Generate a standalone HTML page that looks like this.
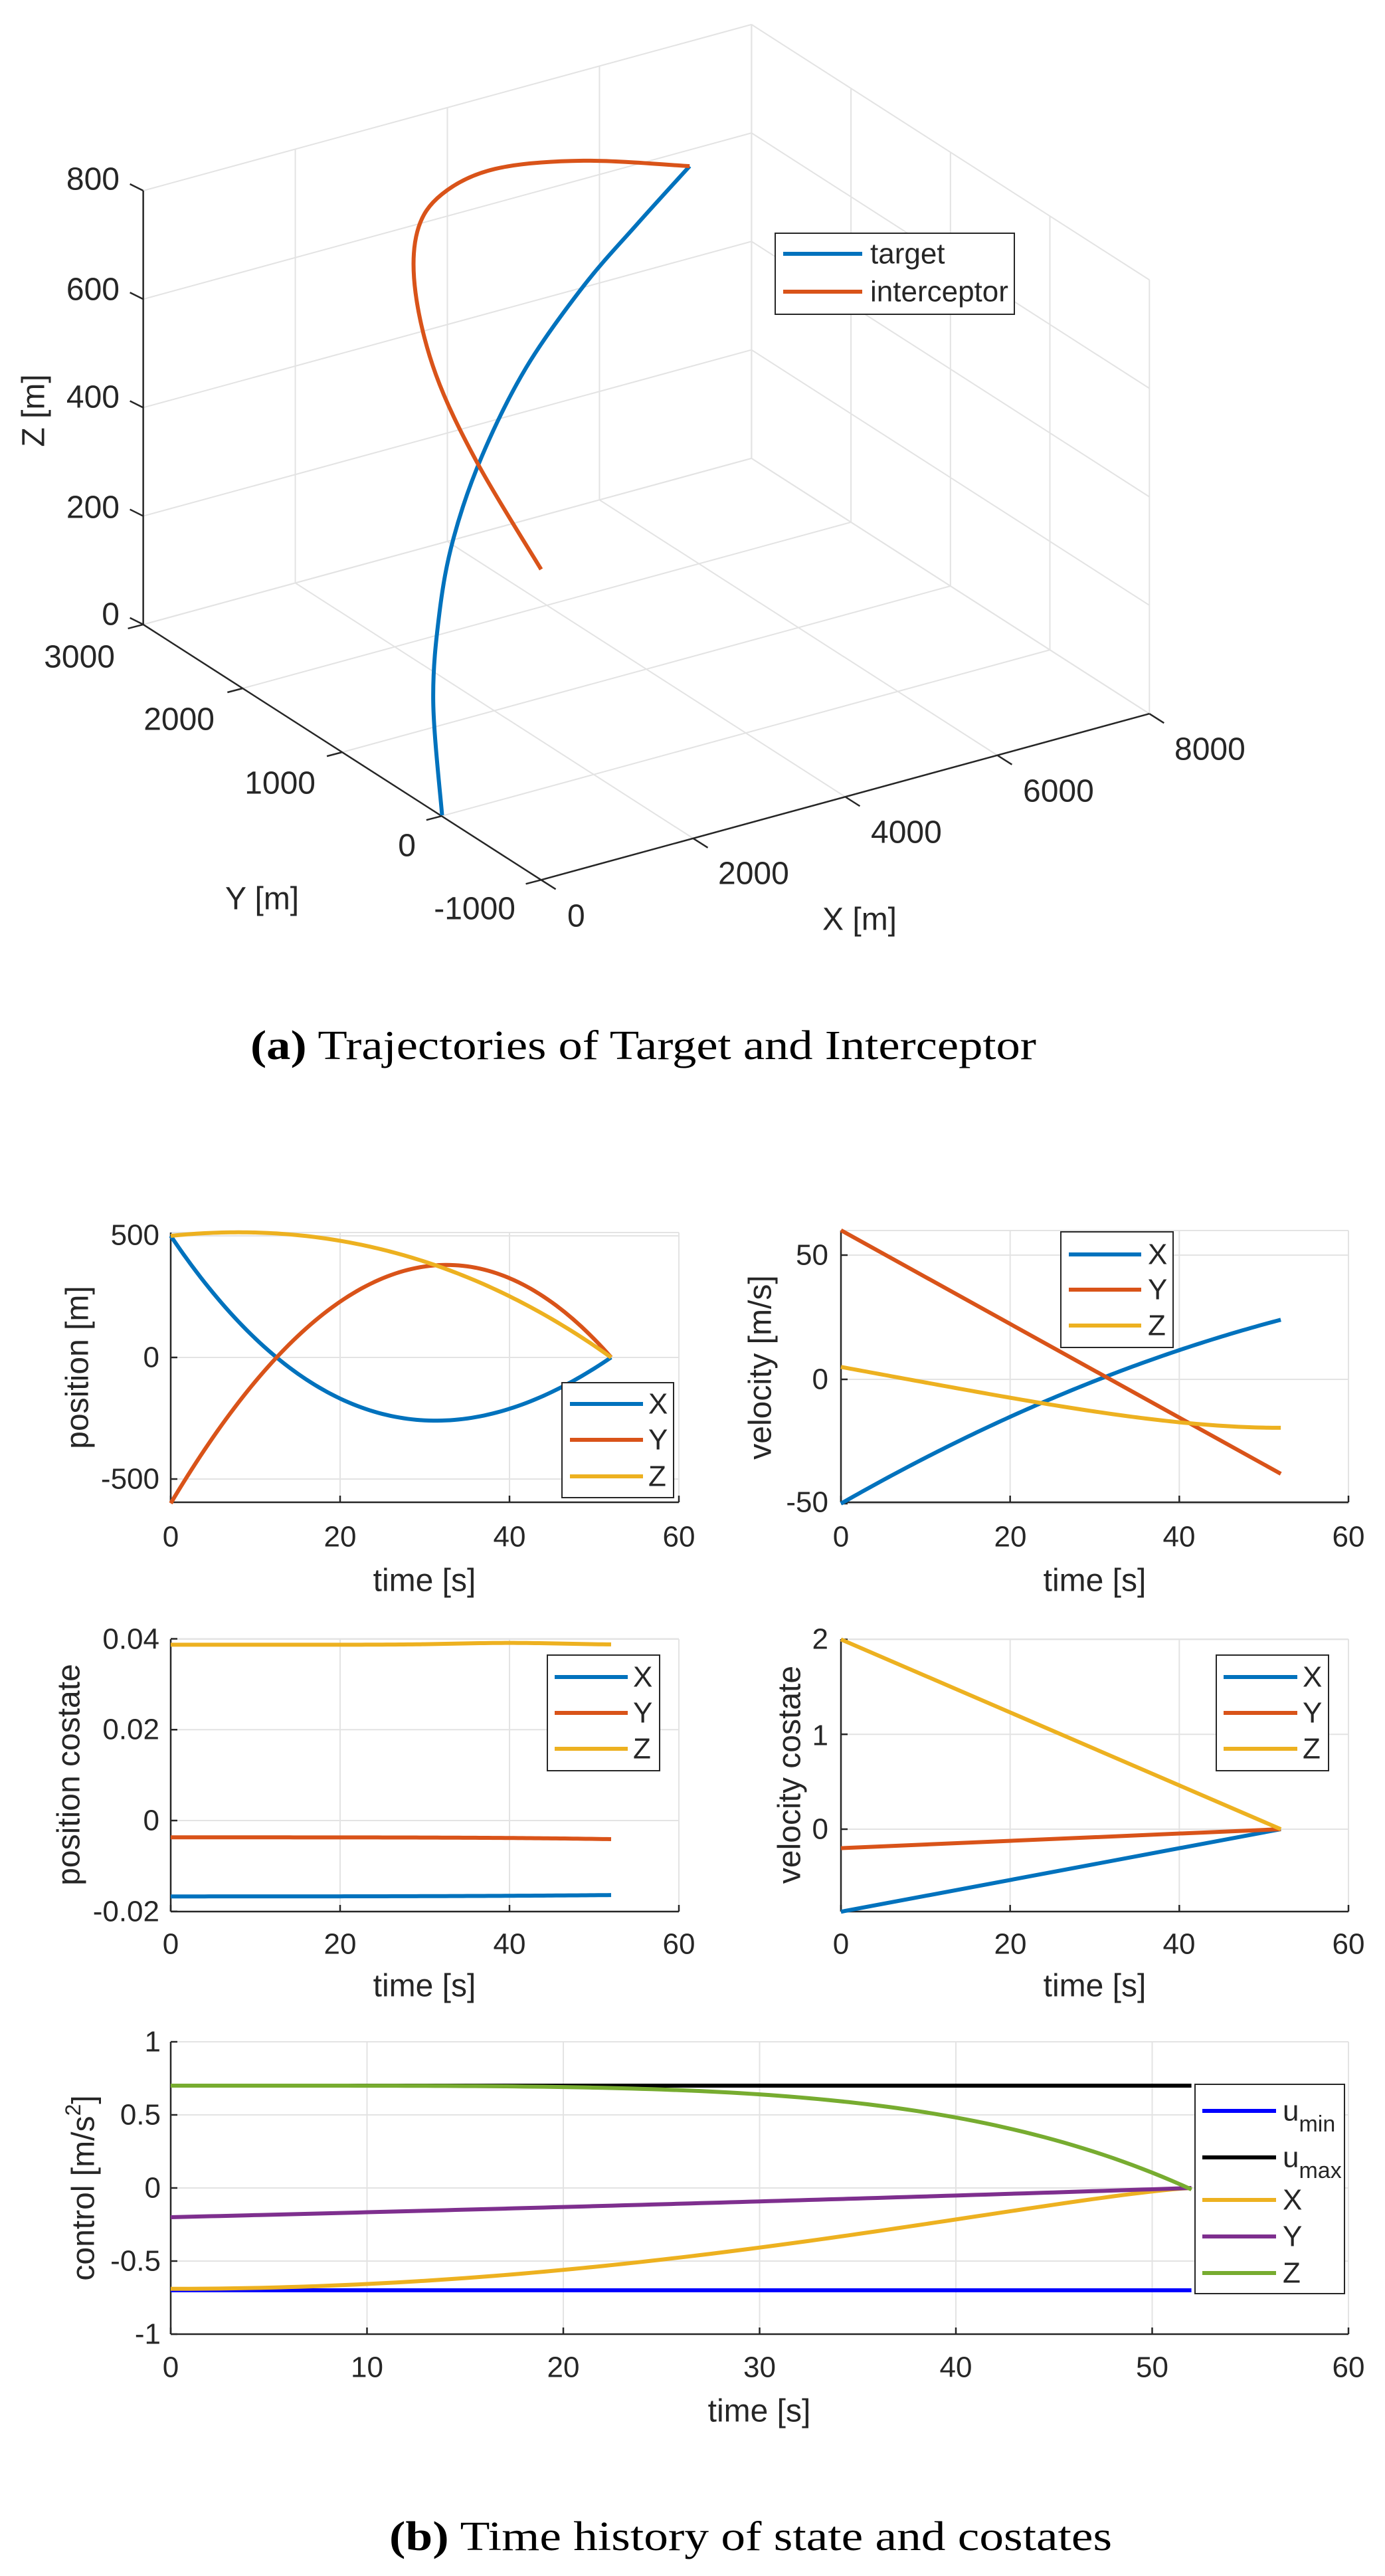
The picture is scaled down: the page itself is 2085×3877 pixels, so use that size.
<!DOCTYPE html>
<html><head><meta charset="utf-8"><style>
html,body{margin:0;padding:0;background:#fff;}
svg{display:block;}
text{font-family:"Liberation Sans",Arial,sans-serif;fill:#262626;}
.t{font-size:48px;}
.s{font-size:44px;}
.cap{font-family:"Liberation Serif",serif;font-size:62px;fill:#000;}
</style></head><body>
<svg id="root" width="2085" height="3877" viewBox="0 0 2085 3877" xmlns="http://www.w3.org/2000/svg">
<rect width="2085" height="3877" fill="#fff"/>
<g id="geo"></g>
<g class="t" dominant-baseline="central">
<text x="180" y="270" text-anchor="end" dominant-baseline="central">800</text>
<text x="180" y="436" text-anchor="end" dominant-baseline="central">600</text>
<text x="180" y="598" text-anchor="end" dominant-baseline="central">400</text>
<text x="180" y="764" text-anchor="end" dominant-baseline="central">200</text>
<text x="180" y="925" text-anchor="end" dominant-baseline="central">0</text>
<text x="173" y="989" text-anchor="end" dominant-baseline="central">3000</text>
<text x="323" y="1083" text-anchor="end" dominant-baseline="central">2000</text>
<text x="475" y="1179" text-anchor="end" dominant-baseline="central">1000</text>
<text x="626" y="1273" text-anchor="end" dominant-baseline="central">0</text>
<text x="776" y="1368" text-anchor="end" dominant-baseline="central">-1000</text>
<text x="854" y="1379" dominant-baseline="central">0</text>
<text x="1081" y="1315" dominant-baseline="central">2000</text>
<text x="1311" y="1253" dominant-baseline="central">4000</text>
<text x="1540" y="1191" dominant-baseline="central">6000</text>
<text x="1768" y="1128" dominant-baseline="central">8000</text>
<text x="51" y="618" text-anchor="middle" dominant-baseline="central" transform="rotate(-90 51 618)">Z [m]</text>
<text x="339" y="1353" dominant-baseline="central">Y [m]</text>
<text x="1238" y="1384" dominant-baseline="central">X [m]</text>
</g>
<g class="s">
<text x="1310" y="382" dominant-baseline="central">target</text>
<text x="1310" y="439" dominant-baseline="central">interceptor</text>
</g>
<text class="cap" x="377" y="1594" textLength="1183" lengthAdjust="spacingAndGlyphs"><tspan font-weight="bold">(a)</tspan> Trajectories of Target and Interceptor</text>

<g class="s" text-anchor="end">
<text x="240" y="1859" dominant-baseline="central">500</text>
<text x="240" y="2043" dominant-baseline="central">0</text>
<text x="240" y="2226" dominant-baseline="central">-500</text>
<text x="1247" y="1889" dominant-baseline="central">50</text>
<text x="1247" y="2076" dominant-baseline="central">0</text>
<text x="1247" y="2261" dominant-baseline="central">-50</text>
<text x="240" y="2467" dominant-baseline="central">0.04</text>
<text x="240" y="2603" dominant-baseline="central">0.02</text>
<text x="240" y="2740" dominant-baseline="central">0</text>
<text x="240" y="2877" dominant-baseline="central">-0.02</text>
<text x="1247" y="2467" dominant-baseline="central">2</text>
<text x="1247" y="2612" dominant-baseline="central">1</text>
<text x="1247" y="2753" dominant-baseline="central">0</text>
<text x="242" y="3073" dominant-baseline="central">1</text>
<text x="242" y="3183" dominant-baseline="central">0.5</text>
<text x="242" y="3293" dominant-baseline="central">0</text>
<text x="242" y="3403" dominant-baseline="central">-0.5</text>
<text x="242" y="3513" dominant-baseline="central">-1</text>
</g>
<g class="s" text-anchor="middle">
<text x="257" y="2313" dominant-baseline="central">0</text>
<text x="512" y="2313" dominant-baseline="central">20</text>
<text x="767" y="2313" dominant-baseline="central">40</text>
<text x="1022" y="2313" dominant-baseline="central">60</text>
<text x="1266" y="2313" dominant-baseline="central">0</text>
<text x="1521" y="2313" dominant-baseline="central">20</text>
<text x="1775" y="2313" dominant-baseline="central">40</text>
<text x="2030" y="2313" dominant-baseline="central">60</text>
<text x="257" y="2926" dominant-baseline="central">0</text>
<text x="512" y="2926" dominant-baseline="central">20</text>
<text x="767" y="2926" dominant-baseline="central">40</text>
<text x="1022" y="2926" dominant-baseline="central">60</text>
<text x="1266" y="2926" dominant-baseline="central">0</text>
<text x="1521" y="2926" dominant-baseline="central">20</text>
<text x="1775" y="2926" dominant-baseline="central">40</text>
<text x="2030" y="2926" dominant-baseline="central">60</text>
<text x="257" y="3563" dominant-baseline="central">0</text>
<text x="552.5" y="3563" dominant-baseline="central">10</text>
<text x="848" y="3563" dominant-baseline="central">20</text>
<text x="1143.5" y="3563" dominant-baseline="central">30</text>
<text x="1439" y="3563" dominant-baseline="central">40</text>
<text x="1734.5" y="3563" dominant-baseline="central">50</text>
<text x="2030" y="3563" dominant-baseline="central">60</text>
</g>
<g class="t" text-anchor="middle">
<text x="639" y="2379" dominant-baseline="central">time [s]</text>
<text x="1648" y="2379" dominant-baseline="central">time [s]</text>
<text x="639" y="2989" dominant-baseline="central">time [s]</text>
<text x="1648" y="2989" dominant-baseline="central">time [s]</text>
<text x="1143" y="3629" dominant-baseline="central">time [s]</text>
<text x="117" y="2058" dominant-baseline="central" transform="rotate(-90 117 2058)">position [m]</text>
<text x="1145" y="2058" dominant-baseline="central" transform="rotate(-90 1145 2058)">velocity [m/s]</text>
<text x="104" y="2671" dominant-baseline="central" transform="rotate(-90 104 2671)">position costate</text>
<text x="1189" y="2671" dominant-baseline="central" transform="rotate(-90 1189 2671)">velocity costate</text>
<text x="126" y="3293" dominant-baseline="central" transform="rotate(-90 126 3293)">control [m/s<tspan font-size="32" dy="-16">2</tspan><tspan dy="16">]</tspan></text>
</g>
<g class="s" dominant-baseline="central">
<text x="976" y="2113" dominant-baseline="central">X</text>
<text x="976" y="2167" dominant-baseline="central">Y</text>
<text x="976" y="2222" dominant-baseline="central">Z</text>
<text x="1728" y="1888" dominant-baseline="central">X</text>
<text x="1728" y="1941" dominant-baseline="central">Y</text>
<text x="1728" y="1995" dominant-baseline="central">Z</text>
<text x="953" y="2524" dominant-baseline="central">X</text>
<text x="953" y="2578" dominant-baseline="central">Y</text>
<text x="953" y="2632" dominant-baseline="central">Z</text>
<text x="1961" y="2524" dominant-baseline="central">X</text>
<text x="1961" y="2578" dominant-baseline="central">Y</text>
<text x="1961" y="2632" dominant-baseline="central">Z</text>
<text x="1931" y="3177" dominant-baseline="central">u<tspan font-size="34" dy="20">min</tspan></text>
<text x="1931" y="3247" dominant-baseline="central">u<tspan font-size="34" dy="20">max</tspan></text>
<text x="1931" y="3311" dominant-baseline="central">X</text>
<text x="1931" y="3366" dominant-baseline="central">Y</text>
<text x="1931" y="3421" dominant-baseline="central">Z</text>
</g>
<text class="cap" x="586" y="3838" textLength="1088" lengthAdjust="spacingAndGlyphs"><tspan font-weight="bold">(b)</tspan> Time history of state and costates</text>
</svg>
<script>
(function(){
var NS="http://www.w3.org/2000/svg",g=document.getElementById('geo');
function el(n,a,p){var e=document.createElementNS(NS,n);for(var k in a)e.setAttribute(k,a[k]);(p||g).appendChild(e);return e;}
function line(x1,y1,x2,y2,c,w,p){return el('line',{x1:x1,y1:y1,x2:x2,y2:y2,stroke:c,'stroke-width':w},p);}
function cr(pts){var d='M'+pts[0][0]+','+pts[0][1];for(var i=0;i<pts.length-1;i++){var p0=pts[Math.max(i-1,0)],p1=pts[i],p2=pts[i+1],p3=pts[Math.min(i+2,pts.length-1)];
d+=' C'+(p1[0]+(p2[0]-p0[0])/6)+','+(p1[1]+(p2[1]-p0[1])/6)+' '+(p2[0]-(p3[0]-p1[0])/6)+','+(p2[1]-(p3[1]-p1[1])/6)+' '+p2[0]+','+p2[1];}return d;}
function samp(f){var a=[];for(var i=0;i<=104;i++){var t=i*0.5;a.push([t,f(t)]);}return a;}
var GR='#e3e3e3',AX='#262626';
function P(X,Y,Z){return [(612+X/2000*172-(Y+1000)/1000*112.5)*1.331,(1292-X/2000*61-(Y+1000)/1000*93.75-Z/200*159.25)*1.025];}
function L3(a,b,c,w){var p=P.apply(null,a),q=P.apply(null,b);line(p[0],p[1],q[0],q[1],c,w);}
var X,Y,Z;
for(X=0;X<=8000;X+=2000){L3([X,3000,0],[X,3000,800],GR,2);L3([X,-1000,0],[X,3000,0],GR,2);}
for(Y=-1000;Y<=3000;Y+=1000){L3([8000,Y,0],[8000,Y,800],GR,2);L3([0,Y,0],[8000,Y,0],GR,2);}
for(Z=0;Z<=800;Z+=200){L3([0,3000,Z],[8000,3000,Z],GR,2);L3([8000,-1000,Z],[8000,3000,Z],GR,2);}
L3([0,3000,0],[0,3000,800],AX,2.5);L3([0,-1000,0],[0,3000,0],AX,2.5);L3([0,-1000,0],[8000,-1000,0],AX,2.5);
for(Z=0;Z<=800;Z+=200){var p=P(0,3000,Z);line(p[0],p[1],p[0]-20,p[1]-10,AX,2.5);}
for(Y=-1000;Y<=3000;Y+=1000){var p=P(0,Y,0);line(p[0],p[1],p[0]-23,p[1]+6,AX,2.5);}
for(X=0;X<=8000;X+=2000){var p=P(X,-1000,0);line(p[0],p[1],p[0]+22,p[1]+14,AX,2.5);}
function sc(a){return a.map(function(q){return [q[0]*1.331,q[1]*1.025];});}
el('path',{d:cr(sc([[500,1197],[490,1030],[497,900],[513,790],[545,670],[595,540],[660,420],[720,330],[780,244]])),fill:'none',stroke:'#0072BD','stroke-width':6,'stroke-linejoin':'round'});
el('path',{d:cr(sc([[612,836],[540,680],[493,550],[470,430],[472,340],[500,285],[560,248],[660,236],[780,244]])),fill:'none',stroke:'#D95319','stroke-width':6,'stroke-linejoin':'round'});
el('rect',{x:1167,y:351,width:360,height:122,fill:'#fff',stroke:AX,'stroke-width':2});
line(1179,382,1298,382,'#0072BD',6);line(1179,439,1298,439,'#D95319',6);
function axes(o){
 var tx=function(t){return o.x0+t/o.tmax*(o.x1-o.x0);},ty=o.ty;
 for(var i=0;i<o.xt.length;i++){var x=tx(o.xt[i]);line(x,o.yb,x,o.ytop,GR,2);}
 for(var i=0;i<o.yt.length;i++){var y=ty(o.yt[i]);line(o.x0,y,o.x1,y,GR,2);}
 line(o.x0,o.ytop,o.x1,o.ytop,GR,2);line(o.x1,o.ytop,o.x1,o.yb,GR,2);
 line(o.x0,o.yb,o.x1,o.yb,AX,2.5);line(o.x0,o.ytop,o.x0,o.yb,AX,2.5);
 for(var i=0;i<o.xt.length;i++){var x=tx(o.xt[i]);line(x,o.yb,x,o.yb-10,AX,2.5);}
 for(var i=0;i<o.yt.length;i++){var y=ty(o.yt[i]);line(o.x0,y,o.x0+10,y,AX,2.5);}
 o.series.forEach(function(s){var pts=s.f?samp(s.f):s.p;
  el('polyline',{points:pts.map(function(q){return tx(q[0]).toFixed(2)+','+ty(q[1]).toFixed(2);}).join(' '),fill:'none',stroke:s.c,'stroke-width':6,'stroke-linejoin':'round'});});
 if(o.leg){var L=o.leg;el('rect',{x:L.x,y:L.y,width:L.w,height:L.h,fill:'#fff',stroke:AX,'stroke-width':2});
 L.e.forEach(function(e){line(L.lx0,e[0],L.lx1,e[0],e[1],6);});}
}
var B='#0072BD',R='#D95319',Yl='#EDB120';
axes({x0:257,x1:1022,tmax:60,ytop:1855,yb:2261,ty:function(v){return 2043-v*0.366;},xt:[0,20,40,60],yt:[-500,0,500],
 series:[{c:B,f:function(t){return 500-51.71*t+0.97726*t*t-0.003225*t*t*t;}},
 {c:R,f:function(t){return -600+58.5*t-0.8198*t*t-0.0016*t*t*t;}},
 {c:Yl,f:function(t){var v=500+3.587*t-0.2153*t*t-0.000742*t*t*t;return t>=52?0:v-(500+3.587*52-0.2153*2704-0.000742*140608)*t/52;}}],
 leg:{x:846,y:2081,w:168,h:173,lx0:858,lx1:968,e:[[2113,B],[2167,R],[2222,Yl]]}});
axes({x0:1266,x1:2030,tmax:60,ytop:1852,yb:2261,ty:function(v){return 2076-v*3.74;},xt:[0,20,40,60],yt:[-50,0,50],
 series:[{c:B,f:function(t){return -50+1.948*t-0.0101*t*t;}},
 {c:R,p:[[0,60],[52,-38]]},
 {c:Yl,f:function(t){var s=t/52;return 5-24.5*(4/3*s-Math.pow(s,4)/3);}}],
 leg:{x:1597,y:1854,w:169,h:174,lx0:1609,lx1:1718,e:[[1888,B],[1941,R],[1995,Yl]]}});
axes({x0:257,x1:1022,tmax:60,ytop:2467,yb:2877,ty:function(v){return 2740-v*6837.5;},xt:[0,20,40,60],yt:[-0.02,0,0.02,0.04],
 series:[{c:B,f:function(t){return -0.0167+0.0003*Math.pow(t/52,3);}},
 {c:R,f:function(t){return -0.0037-0.0004*Math.pow(t/52,4);}},
 {c:Yl,f:function(t){return 0.0387+0.0004*Math.exp(-Math.pow((t-40)/9,2));}}],
 leg:{x:824,y:2491,w:169,h:174,lx0:835,lx1:945,e:[[2524,B],[2578,R],[2632,Yl]]}});
axes({x0:1266,x1:2030,tmax:60,ytop:2467,yb:2877,ty:function(v){return 2753-v*142.8;},xt:[0,20,40,60],yt:[0,1,2],
 series:[{c:B,p:[[0,-0.87],[52,0]]},{c:R,p:[[0,-0.2],[52,0]]},{c:Yl,p:[[0,2],[52,0]]}],
 leg:{x:1831,y:2491,w:169,h:174,lx0:1842,lx1:1953,e:[[2524,B],[2578,R],[2632,Yl]]}});
axes({x0:257,x1:2030,tmax:60,ytop:3073,yb:3513,ty:function(v){return 3293-v*220;},xt:[0,10,20,30,40,50,60],yt:[-1,-0.5,0,0.5,1],
 series:[{c:'#0000FF',p:[[0,-0.7],[52,-0.7]]},{c:'#000000',p:[[0,0.7],[52,0.7]]},
 {c:Yl,f:function(t){var s=t/52;return -0.69*Math.pow(Math.max(0,1-s*s),1.3);}},
 {c:'#7E2F8E',f:function(t){var s=t/52;return -0.2*(1-s)*(1+0.15*s);}},
 {c:'#77AC30',f:function(t){var s=t/52;return 0.7-0.71*Math.pow(s,4.5);}}],
 leg:{x:1799,y:3137,w:225,h:315,lx0:1810,lx1:1921,e:[[3177,'#0000FF'],[3247,'#000000'],[3311,Yl],[3366,'#7E2F8E'],[3421,'#77AC30']]}});
})();
</script>
</body></html>
